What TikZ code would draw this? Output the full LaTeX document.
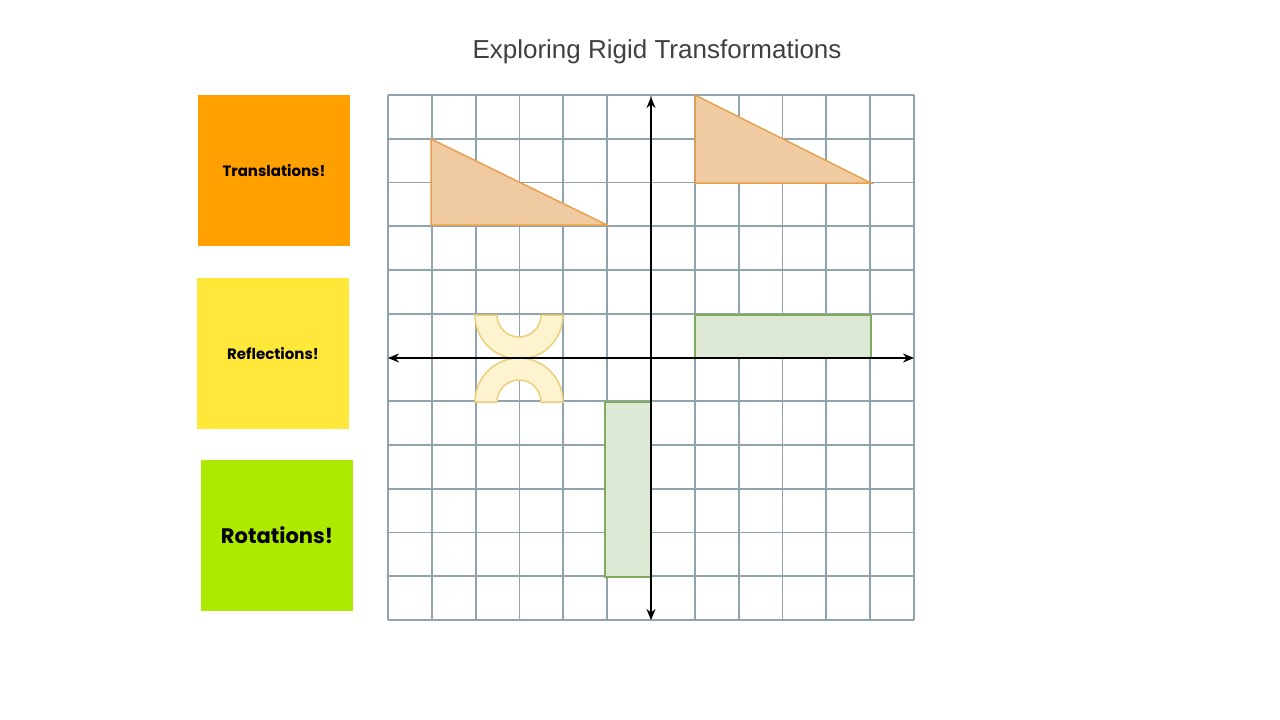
\documentclass[tikz,border=0pt]{standalone}
\usepackage{fontspec}
\setmainfont{Liberation Sans}
\newfontfamily\boxfont{Poppins}
\usetikzlibrary{positioning, arrows.meta}
\definecolor{gridcol}{HTML}{8FA4AE}
\definecolor{trifill}{HTML}{F0CBA1}
\definecolor{triline}{HTML}{E8A04C}
\definecolor{arcfill}{HTML}{FDF3CF}
\definecolor{arcline}{HTML}{EBCF7A}
\definecolor{recfill}{HTML}{DDE8D5}
\definecolor{recline}{HTML}{7FAB5E}
\definecolor{orangebox}{HTML}{FF9F00}
\definecolor{yellowbox}{HTML}{FFE83A}
\definecolor{greenbox}{HTML}{AEEA00}
\tikzset{
  card/.style={minimum width=152pt, minimum height=151pt, inner sep=0pt, font=\boxfont\bfseries\fontsize{15}{18}\selectfont},
  tri/.style={fill=trifill, draw=triline, line width=1.5pt},
  half/.style={fill=arcfill, draw=arcline, line width=1.5pt},
  bar/.style={fill=recfill, draw=recline, line width=1.8pt},
  axis/.style={line width=1.8pt, {Stealth[length=11pt,width=9pt]}-{Stealth[length=11pt,width=9pt]}}
}
\begin{document}
\begin{tikzpicture}[x=1pt, y=-1pt]
		\useasboundingbox (0,0) rectangle (1280,720);
		% title
		\node[text=black!75, font=\fontsize{26}{30}\selectfont] (title) at (657,52) {Exploring Rigid Transformations};

		% cards
		\node[card, fill=orangebox] (trans) at (274,170.5) {Translations!};
		\node[card, fill=yellowbox] (refl) at (273,353.5) {Reflections!};
		\node[card, fill=greenbox, font=\boxfont\bfseries\fontsize{21}{24}\selectfont] (rot) at (277,535) {Rotations!};

		% grid
		\foreach \i in {0,...,12} {
			\draw[gridcol, line width=1.8pt] (388+\i*43.83,95) -- (388+\i*43.83,620);
			\draw[gridcol, line width=1.8pt] (388,95+\i*43.75) -- (914,95+\i*43.75);
		}

		% shapes
		\draw[tri] (431,139) -- (431,225) -- (607,225) -- cycle;
		\draw[tri] (695,95) -- (695,183) -- (871,183) -- cycle;
		\draw[half] (475,315) arc[start angle=180, end angle=0, radius=44] -- (541,315) arc[start angle=0, end angle=180, radius=22] -- cycle;
		\draw[half] (475,402) arc[start angle=-180, end angle=0, radius=44] -- (541,402) arc[start angle=0, end angle=-180, radius=22] -- cycle;
		\draw[bar] (695,315) rectangle (871,358);
		\draw[bar] (605,402) rectangle (651,577);

		% axes
		\coordinate (xl) at (388,358);
		\coordinate (xr) at (914,358);
		\coordinate (yt) at (651,97);
		\coordinate (yb) at (651,620);
		\draw[axis] (xl) -- (xr);
		\draw[axis] (yb) -- (yt);
	\end{tikzpicture}
\end{document}
